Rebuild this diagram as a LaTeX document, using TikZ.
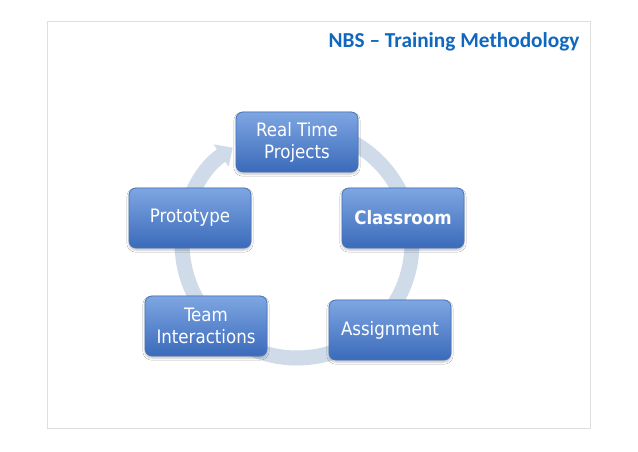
\documentclass[tikz,border=0pt]{standalone}
\usepackage{fontspec}
\setmainfont{DejaVu Sans Condensed}
\newfontfamily\titlefont{Carlito}
\usetikzlibrary{arrows.meta,shadows.blur}
\definecolor{titleblue}{RGB}{16,104,190}
\definecolor{boxtop}{RGB}{126,166,226}
\definecolor{boxbot}{RGB}{58,106,186}
\definecolor{boxedge}{RGB}{74,116,188}
\definecolor{ringcol}{RGB}{208,219,234}
\definecolor{framecol}{RGB}{222,222,222}
\begin{document}
\begin{tikzpicture}[x=1pt,y=1pt,
  stepbox/.style={rectangle, rounded corners=7pt, minimum width=122pt, minimum height=60pt,
    top color=boxtop, bottom color=boxbot, draw=boxedge, line width=0.8pt,
    text=white, align=center, font=\fontsize{18.5}{22}\selectfont,
    blur shadow={shadow xshift=0pt, shadow yshift=-2pt, shadow blur steps=5, shadow opacity=25}},
  ring/.style={draw=ringcol, line width=15pt,
    -{Triangle[width=26pt,length=14pt]}}]
\useasboundingbox (0,0) rectangle (638,-451);
\fill[white] (0,0) rectangle (638,-451);
\draw[framecol, line width=1pt] (47,-21) rectangle (590,-428);
\node[anchor=east, text=titleblue, font=\titlefont\bfseries\fontsize{21.3}{24}\selectfont] (title) at (583,-42) {NBS – Training Methodology};
\coordinate (c) at (297,-243);
\draw[ring] ([shift={(95:115)}]c) arc[start angle=95, end angle=-236, radius=115];
\node[stepbox] (rtp) at (297,-142) {Real Time\\Projects};
\node[stepbox, font=\bfseries\fontsize{18.5}{22}\selectfont] (class) at (403,-218) {Classroom};
\node[stepbox] (assign) at (390,-330) {Assignment};
\node[stepbox] (team) at (206,-326) {Team\\Interactions};
\node[stepbox] (proto) at (190,-218) {Prototype};
\end{tikzpicture}
\end{document}
